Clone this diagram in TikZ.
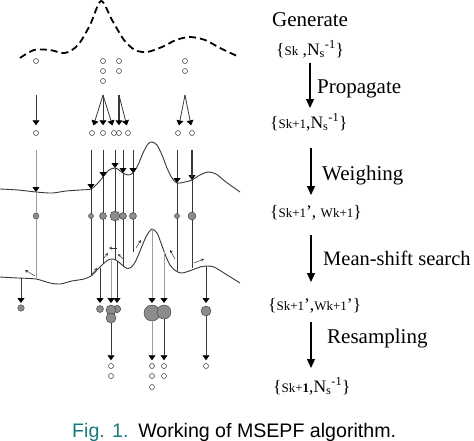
\documentclass[tikz,border=0pt]{standalone}
\usepackage{fontspec}
\setmainfont{Liberation Serif}
\newfontfamily\capfont{Liberation Sans}
\usetikzlibrary{arrows.meta}
\definecolor{figteal}{RGB}{25,120,125}
\definecolor{lgray}{gray}{0.62}
\definecolor{dgray}{gray}{0.22}
\definecolor{dotfill}{gray}{0.55}
\newcommand{\smtxt}[1]{{\fontsize{13}{14}\selectfont #1}}
\newcommand{\NsInv}{N\textsubscript{s}\textsuperscript{-1}}
\begin{document}
\begin{tikzpicture}[x=1pt,y=-1pt,
  opc/.style={circle,draw=dgray,line width=0.5pt,inner sep=0pt,minimum size=5pt},
  wd/.style={circle,fill=dotfill,draw=dgray,line width=0.4pt,inner sep=0pt,minimum size=#1},
  tri/.style={-{Triangle[width=7pt,length=5pt,color=black]}},
  pl/.style={line width=0.8pt,draw=dgray},
  gl/.style={line width=0.8pt,draw=lgray},
  sh/.style={line width=0.5pt,draw=dgray,-{Stealth[length=3pt,width=3pt]}},
  bigarr/.style={line width=1.3pt,-{Triangle[width=8pt,length=9pt]}},
  lbl/.style={anchor=base west,inner sep=0pt,font=\fontsize{21}{24}\selectfont},
  setl/.style={anchor=base west,inner sep=0pt,font=\fontsize{17.5}{20}\selectfont},
  curve/.style={line width=0.9pt,draw=dgray},
]
\useasboundingbox (0,0) rectangle (474,440);

% ---- dashed prior density
\draw[line width=1.8pt,dash pattern=on 7pt off 4pt] plot[smooth] coordinates
 {(20,58) (34,50) (50,50) (65,53) (78,45) (90,25) (101,1) (112,20) (124,40) (135,50) (147,52) (162,47) (176,40) (190,37) (205,40) (220,48) (237,56)};

% ---- initial particles
\node[opc] (t1) at (36,61) {};
\node[opc] (t2) at (103,61) {};
\node[opc] (t3) at (103,71) {};
\node[opc] (t4) at (103,81) {};
\node[opc] (t5) at (119,61) {};
\node[opc] (t6) at (119,71) {};
\node[opc] (t7) at (185,61) {};
\node[opc] (t8) at (185,71) {};

\coordinate (a1) at (36,95);
\coordinate (a2) at (103,95);
\coordinate (a3) at (119,95);
\coordinate (a4) at (185,95);

% ---- propagated particles
\node[opc] (q1) at (36,133) {};
\node[opc] (q2) at (92,133) {};
\node[opc] (q3) at (103,133) {};
\node[opc] (q4) at (114,133) {};
\node[opc] (q5) at (119,133) {};
\node[opc] (q6) at (128,133) {};
\node[opc] (q7) at (178,133) {};
\node[opc] (q8) at (192,133) {};

\draw[pl,tri,shorten >=5pt] (a1) -- (q1.north);
\draw[pl,tri,shorten >=5pt] (a2) -- (q2.north);
\draw[pl,tri,shorten >=5pt] (a2) -- (q3.north);
\draw[pl,tri,shorten >=5pt] (a2) -- (q4.north);
\draw[pl,tri,shorten >=5pt,line width=1.4pt] (a3) -- (q5.north);
\draw[pl,tri,shorten >=5pt] (a3) -- (q6.north);
\draw[pl,tri,shorten >=5pt] (a4) -- (q7.north);
\draw[pl,tri,shorten >=5pt] (a4) -- (q8.north);

% ---- likelihood (middle curve)
\draw[curve] plot[smooth] coordinates
 {(0,189) (18,190) (36,192) (52,193) (66,191) (80,190) (91,189) (97,184) (103,177) (109,170) (115,168) (119,170) (123,173) (128,175) (133,173) (138,165) (143,153) (148,144) (152,142) (157,145) (162,155) (167,168) (172,178) (177,183) (185,182) (192,180) (200,175) (208,172) (216,174) (226,182) (240,192)};

% ---- lower (mean-shift) curve
\draw[curve] plot[smooth] coordinates
 {(0,277) (18,278) (36,279) (50,283) (60,284) (72,281) (84,279) (91,276) (97,270) (103,264) (108,260) (112,259) (116,260) (121,264) (126,268) (130,268) (134,264) (138,256) (142,246) (147,235) (152,229) (157,233) (161,243) (165,254) (170,265) (176,271) (182,273) (192,270) (200,267) (207,266) (214,267) (224,273) (240,283)};

% ---- vertical particle lines
\foreach \n/\x/\ym/\ye/\st in {1/36/192/279/gl, 2/91/189/276/pl, 3/103/177/264/pl, 4/115/168/260/pl, 5/123/173/266/pl, 6/133/173/252/pl, 7/177/183/271/pl, 8/192/180/268/pl}{
  \coordinate (s\n) at (\x,150);
  \coordinate (m\n) at (\x,\ym);
  \coordinate (e\n) at (\x,\ye);
  \draw[\st,tri] (s\n) -- (m\n);
  \draw[\st] (m\n) -- (e\n);
}
\draw[pl,line width=1.4pt] (s8) -- ([yshift=3pt]m8);

% ---- weights
\node[wd=6pt]  (w1) at (36,216) {};
\node[wd=5pt]  (w2) at (91,216) {};
\node[wd=7pt]  (w3) at (103,216) {};
\node[wd=10pt] (w4) at (115,216) {};
\node[wd=7pt]  (w5) at (123,216) {};
\node[wd=7pt]  (w6) at (133,216) {};
\node[wd=5pt]  (w7) at (177,216) {};
\node[wd=8pt]  (w8) at (192,216) {};

% ---- mean-shift arrows
\draw[sh] (35,276) -- (25,270);
\draw[sh] (92,274) -- (97,268);
\draw[sh] (103,259) -- (108,253);
\draw[sh] (117,248) -- (109,248);
\draw[sh] (123,259) -- (118,254);
\draw[sh] (136,248) -- (141,240);
\draw[sh] (175,259) -- (170,250);
\draw[sh] (194,263) -- (204,259);

% ---- shifted particles
\foreach \n/\x/\ys/\st in {1/21/278/pl, 2/100/268/pl, 3/111/259/gl, 4/117/261/pl, 5/152/229/gl, 6/164/252/gl, 7/206/266/pl}{
  \coordinate (u\n) at (\x,\ys);
  \coordinate (v\n) at (\x,303);
  \draw[\st,tri] (u\n) -- (v\n);
}
\node[wd=6.5pt] (d1) at (21,308) {};
\node[wd=7pt]   (d2) at (100,309) {};
\node[wd=7.5pt] (d4) at (117,309) {};
\node[wd=10pt]  (d3) at (111,310) {};
\node[wd=10pt]  (d3b) at (111,318) {};
\node[wd=16pt]  (d5) at (152,313) {};
\node[wd=14pt]  (d6) at (164,312) {};
\node[wd=10pt]  (d7) at (206,311) {};

% ---- resampled particles
\node[opc] (r1) at (111,366) {};
\node[opc] (r2) at (111,376) {};
\node[opc] (r3) at (152,366) {};
\node[opc] (r4) at (152,376) {};
\node[opc] (r5) at (152,387) {};
\node[opc] (r6) at (164,366) {};
\node[opc] (r7) at (164,376) {};
\node[opc] (r8) at (206,366) {};

\draw[pl,tri,shorten >=3pt] (d3b.south) -- (r1.north);
\draw[gl,tri,shorten >=3pt] (d5.south) -- (r3.north);
\draw[pl,tri,shorten >=3pt] (d6.south) -- (r6.north);
\draw[pl,tri,shorten >=3pt] (d7.south) -- (r8.north);

% ---- right column
\node[lbl] (gen) at (272,26) {Generate};
\node[setl] (set1) at (276,55) {\{\smtxt{Sk} ,\NsInv\}};
\node[lbl] (prop) at (317,93) {Propagate};
\node[setl] (set2) at (270,128) {\{\smtxt{Sk+1},\NsInv\}};
\node[lbl] (wgh) at (322,180) {Weighing};
\node[setl] (set3) at (270,217) {\{\smtxt{Sk+1}’, \smtxt{Wk+1}\}};
\node[lbl,font=\fontsize{20.5}{24}\selectfont] (msh) at (323,265) {Mean-shift search};
\node[setl] (set4) at (268,310) {\{\smtxt{Sk+1}’,\smtxt{Wk+1}’\}};
\node[lbl] (res) at (327,343) {Resampling};
\node[setl] (set5) at (273,392) {\{\smtxt{Sk+\textbf{1}},\NsInv\}};

\coordinate (k1a) at (310,63);  \coordinate (k1b) at (310,108);
\coordinate (k2a) at (311,148); \coordinate (k2b) at (311,195);
\coordinate (k3a) at (311,235); \coordinate (k3b) at (311,282);
\coordinate (k4a) at (311,322); \coordinate (k4b) at (311,368);
\draw[bigarr] (k1a) -- (k1b);
\draw[bigarr] (k2a) -- (k2b);
\draw[bigarr] (k3a) -- (k3b);
\draw[bigarr] (k4a) -- (k4b);

% ---- caption
\node[anchor=base west,inner sep=0pt,font=\capfont\fontsize{19.6}{22}\selectfont] (cap) at (72,437)
 {\textcolor{figteal}{Fig. 1.}\enspace Working of MSEPF algorithm.};
\end{tikzpicture}
\end{document}
